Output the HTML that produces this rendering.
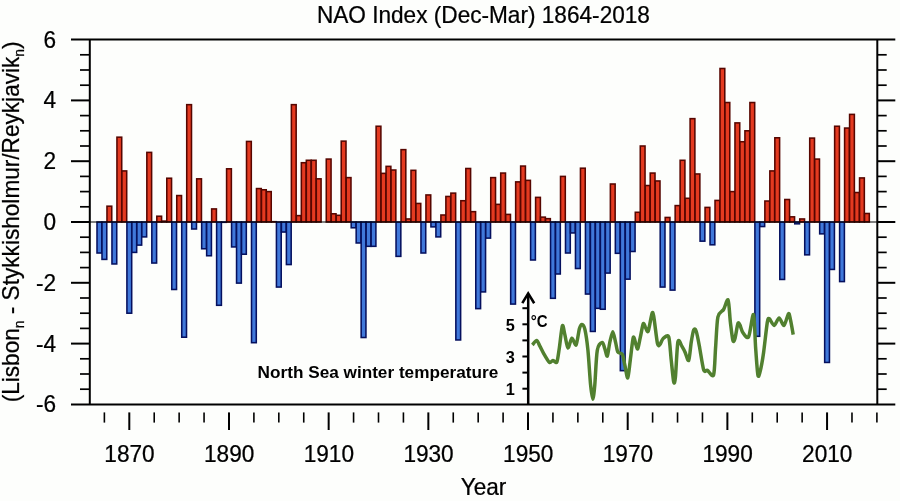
<!DOCTYPE html>
<html><head><meta charset="utf-8"><title>NAO Index</title>
<style>html,body{margin:0;padding:0;background:#fdfefc;}body{width:900px;height:501px;overflow:hidden;font-family:"Liberation Sans",sans-serif;}svg{display:block;filter:blur(0.35px);}</style>
</head><body>
<svg width="900" height="501" viewBox="0 0 900 501">
<rect x="0" y="0" width="900" height="501" fill="#fdfefc"/>
<g stroke-width="1.55">
<rect x="97.00" y="222.00" width="4.78" height="31.01" fill="#4078da" stroke="#05105e"/>
<rect x="101.99" y="222.00" width="4.78" height="37.40" fill="#4078da" stroke="#05105e"/>
<rect x="106.97" y="206.19" width="4.78" height="15.81" fill="#e43a20" stroke="#560600"/>
<rect x="111.96" y="222.00" width="4.78" height="41.96" fill="#4078da" stroke="#05105e"/>
<rect x="116.94" y="137.18" width="4.78" height="84.82" fill="#e43a20" stroke="#560600"/>
<rect x="121.92" y="170.92" width="4.78" height="51.08" fill="#e43a20" stroke="#560600"/>
<rect x="126.91" y="222.00" width="4.78" height="91.20" fill="#4078da" stroke="#05105e"/>
<rect x="131.89" y="222.00" width="4.78" height="30.40" fill="#4078da" stroke="#05105e"/>
<rect x="136.88" y="222.00" width="4.78" height="23.11" fill="#4078da" stroke="#05105e"/>
<rect x="141.86" y="222.00" width="4.78" height="14.90" fill="#4078da" stroke="#05105e"/>
<rect x="146.84" y="152.38" width="4.78" height="69.62" fill="#e43a20" stroke="#560600"/>
<rect x="151.83" y="222.00" width="4.78" height="41.04" fill="#4078da" stroke="#05105e"/>
<rect x="156.81" y="216.22" width="4.78" height="5.78" fill="#e43a20" stroke="#560600"/>
<rect x="161.80" y="221.08" width="4.78" height="0.92" fill="#e43a20" stroke="#560600"/>
<rect x="166.78" y="178.22" width="4.78" height="43.78" fill="#e43a20" stroke="#560600"/>
<rect x="171.76" y="222.00" width="4.78" height="67.49" fill="#4078da" stroke="#05105e"/>
<rect x="176.75" y="195.55" width="4.78" height="26.45" fill="#e43a20" stroke="#560600"/>
<rect x="181.73" y="222.00" width="4.78" height="115.22" fill="#4078da" stroke="#05105e"/>
<rect x="186.72" y="104.65" width="4.78" height="117.35" fill="#e43a20" stroke="#560600"/>
<rect x="191.70" y="222.00" width="4.78" height="7.00" fill="#4078da" stroke="#05105e"/>
<rect x="196.68" y="178.83" width="4.78" height="43.17" fill="#e43a20" stroke="#560600"/>
<rect x="201.67" y="222.00" width="4.78" height="26.76" fill="#4078da" stroke="#05105e"/>
<rect x="206.65" y="222.00" width="4.78" height="33.75" fill="#4078da" stroke="#05105e"/>
<rect x="211.64" y="208.92" width="4.78" height="13.08" fill="#e43a20" stroke="#560600"/>
<rect x="216.62" y="222.00" width="4.78" height="83.30" fill="#4078da" stroke="#05105e"/>
<rect x="221.60" y="222.00" width="4.78" height="0.31" fill="#4078da" stroke="#05105e"/>
<rect x="226.59" y="168.80" width="4.78" height="53.20" fill="#e43a20" stroke="#560600"/>
<rect x="231.57" y="222.00" width="4.78" height="24.93" fill="#4078da" stroke="#05105e"/>
<rect x="236.56" y="222.00" width="4.78" height="61.11" fill="#4078da" stroke="#05105e"/>
<rect x="241.54" y="222.00" width="4.78" height="32.23" fill="#4078da" stroke="#05105e"/>
<rect x="246.52" y="141.44" width="4.78" height="80.56" fill="#e43a20" stroke="#560600"/>
<rect x="251.51" y="222.00" width="4.78" height="120.69" fill="#4078da" stroke="#05105e"/>
<rect x="256.49" y="188.56" width="4.78" height="33.44" fill="#e43a20" stroke="#560600"/>
<rect x="261.48" y="189.77" width="4.78" height="32.23" fill="#e43a20" stroke="#560600"/>
<rect x="266.46" y="191.60" width="4.78" height="30.40" fill="#e43a20" stroke="#560600"/>
<rect x="271.44" y="221.69" width="4.78" height="0.31" fill="#e43a20" stroke="#560600"/>
<rect x="276.43" y="222.00" width="4.78" height="65.06" fill="#4078da" stroke="#05105e"/>
<rect x="281.41" y="222.00" width="4.78" height="10.04" fill="#4078da" stroke="#05105e"/>
<rect x="286.40" y="222.00" width="4.78" height="42.56" fill="#4078da" stroke="#05105e"/>
<rect x="291.38" y="104.65" width="4.78" height="117.35" fill="#e43a20" stroke="#560600"/>
<rect x="296.36" y="215.61" width="4.78" height="6.39" fill="#e43a20" stroke="#560600"/>
<rect x="301.35" y="162.72" width="4.78" height="59.28" fill="#e43a20" stroke="#560600"/>
<rect x="306.33" y="160.28" width="4.78" height="61.72" fill="#e43a20" stroke="#560600"/>
<rect x="311.32" y="160.28" width="4.78" height="61.72" fill="#e43a20" stroke="#560600"/>
<rect x="316.30" y="178.83" width="4.78" height="43.17" fill="#e43a20" stroke="#560600"/>
<rect x="326.27" y="159.07" width="4.78" height="62.93" fill="#e43a20" stroke="#560600"/>
<rect x="331.25" y="213.79" width="4.78" height="8.21" fill="#e43a20" stroke="#560600"/>
<rect x="336.24" y="215.31" width="4.78" height="6.69" fill="#e43a20" stroke="#560600"/>
<rect x="341.22" y="141.13" width="4.78" height="80.87" fill="#e43a20" stroke="#560600"/>
<rect x="346.20" y="177.61" width="4.78" height="44.39" fill="#e43a20" stroke="#560600"/>
<rect x="351.19" y="222.00" width="4.78" height="5.78" fill="#4078da" stroke="#05105e"/>
<rect x="356.17" y="222.00" width="4.78" height="20.98" fill="#4078da" stroke="#05105e"/>
<rect x="361.16" y="222.00" width="4.78" height="115.52" fill="#4078da" stroke="#05105e"/>
<rect x="366.14" y="222.00" width="4.78" height="24.32" fill="#4078da" stroke="#05105e"/>
<rect x="371.12" y="222.00" width="4.78" height="24.32" fill="#4078da" stroke="#05105e"/>
<rect x="376.11" y="126.24" width="4.78" height="95.76" fill="#e43a20" stroke="#560600"/>
<rect x="381.09" y="173.36" width="4.78" height="48.64" fill="#e43a20" stroke="#560600"/>
<rect x="386.08" y="166.36" width="4.78" height="55.64" fill="#e43a20" stroke="#560600"/>
<rect x="391.06" y="170.01" width="4.78" height="51.99" fill="#e43a20" stroke="#560600"/>
<rect x="396.04" y="222.00" width="4.78" height="34.36" fill="#4078da" stroke="#05105e"/>
<rect x="401.03" y="149.64" width="4.78" height="72.36" fill="#e43a20" stroke="#560600"/>
<rect x="406.01" y="218.96" width="4.78" height="3.04" fill="#e43a20" stroke="#560600"/>
<rect x="411.00" y="170.32" width="4.78" height="51.68" fill="#e43a20" stroke="#560600"/>
<rect x="415.98" y="203.45" width="4.78" height="18.55" fill="#e43a20" stroke="#560600"/>
<rect x="420.96" y="222.00" width="4.78" height="31.01" fill="#4078da" stroke="#05105e"/>
<rect x="425.95" y="194.94" width="4.78" height="27.06" fill="#e43a20" stroke="#560600"/>
<rect x="430.93" y="222.00" width="4.78" height="4.87" fill="#4078da" stroke="#05105e"/>
<rect x="435.92" y="222.00" width="4.78" height="14.90" fill="#4078da" stroke="#05105e"/>
<rect x="440.90" y="215.00" width="4.78" height="7.00" fill="#e43a20" stroke="#560600"/>
<rect x="445.88" y="196.46" width="4.78" height="25.54" fill="#e43a20" stroke="#560600"/>
<rect x="450.87" y="193.12" width="4.78" height="28.88" fill="#e43a20" stroke="#560600"/>
<rect x="455.85" y="222.00" width="4.78" height="117.96" fill="#4078da" stroke="#05105e"/>
<rect x="460.84" y="200.72" width="4.78" height="21.28" fill="#e43a20" stroke="#560600"/>
<rect x="465.82" y="168.49" width="4.78" height="53.51" fill="#e43a20" stroke="#560600"/>
<rect x="470.80" y="211.66" width="4.78" height="10.34" fill="#e43a20" stroke="#560600"/>
<rect x="475.79" y="222.00" width="4.78" height="86.64" fill="#4078da" stroke="#05105e"/>
<rect x="480.77" y="222.00" width="4.78" height="69.92" fill="#4078da" stroke="#05105e"/>
<rect x="485.76" y="222.00" width="4.78" height="16.12" fill="#4078da" stroke="#05105e"/>
<rect x="490.74" y="177.61" width="4.78" height="44.39" fill="#e43a20" stroke="#560600"/>
<rect x="495.72" y="204.36" width="4.78" height="17.64" fill="#e43a20" stroke="#560600"/>
<rect x="500.71" y="173.05" width="4.78" height="48.95" fill="#e43a20" stroke="#560600"/>
<rect x="505.69" y="214.40" width="4.78" height="7.60" fill="#e43a20" stroke="#560600"/>
<rect x="510.68" y="222.00" width="4.78" height="82.08" fill="#4078da" stroke="#05105e"/>
<rect x="515.66" y="181.87" width="4.78" height="40.13" fill="#e43a20" stroke="#560600"/>
<rect x="520.64" y="166.06" width="4.78" height="55.94" fill="#e43a20" stroke="#560600"/>
<rect x="525.63" y="180.35" width="4.78" height="41.65" fill="#e43a20" stroke="#560600"/>
<rect x="530.61" y="222.00" width="4.78" height="38.00" fill="#4078da" stroke="#05105e"/>
<rect x="535.60" y="197.37" width="4.78" height="24.63" fill="#e43a20" stroke="#560600"/>
<rect x="540.58" y="217.13" width="4.78" height="4.87" fill="#e43a20" stroke="#560600"/>
<rect x="545.56" y="218.65" width="4.78" height="3.35" fill="#e43a20" stroke="#560600"/>
<rect x="550.55" y="222.00" width="4.78" height="76.31" fill="#4078da" stroke="#05105e"/>
<rect x="555.53" y="222.00" width="4.78" height="51.99" fill="#4078da" stroke="#05105e"/>
<rect x="560.52" y="176.40" width="4.78" height="45.60" fill="#e43a20" stroke="#560600"/>
<rect x="565.50" y="222.00" width="4.78" height="31.01" fill="#4078da" stroke="#05105e"/>
<rect x="570.48" y="222.00" width="4.78" height="10.95" fill="#4078da" stroke="#05105e"/>
<rect x="575.47" y="222.00" width="4.78" height="46.52" fill="#4078da" stroke="#05105e"/>
<rect x="580.45" y="168.19" width="4.78" height="53.81" fill="#e43a20" stroke="#560600"/>
<rect x="585.44" y="222.00" width="4.78" height="72.05" fill="#4078da" stroke="#05105e"/>
<rect x="590.42" y="222.00" width="4.78" height="109.44" fill="#4078da" stroke="#05105e"/>
<rect x="595.40" y="222.00" width="4.78" height="86.34" fill="#4078da" stroke="#05105e"/>
<rect x="600.39" y="222.00" width="4.78" height="87.25" fill="#4078da" stroke="#05105e"/>
<rect x="605.37" y="222.00" width="4.78" height="51.08" fill="#4078da" stroke="#05105e"/>
<rect x="610.36" y="184.00" width="4.78" height="38.00" fill="#e43a20" stroke="#560600"/>
<rect x="615.34" y="222.00" width="4.78" height="31.32" fill="#4078da" stroke="#05105e"/>
<rect x="620.32" y="222.00" width="4.78" height="148.66" fill="#4078da" stroke="#05105e"/>
<rect x="625.31" y="222.00" width="4.78" height="57.16" fill="#4078da" stroke="#05105e"/>
<rect x="630.29" y="222.00" width="4.78" height="29.49" fill="#4078da" stroke="#05105e"/>
<rect x="635.28" y="212.27" width="4.78" height="9.73" fill="#e43a20" stroke="#560600"/>
<rect x="640.26" y="146.00" width="4.78" height="76.00" fill="#e43a20" stroke="#560600"/>
<rect x="645.24" y="185.52" width="4.78" height="36.48" fill="#e43a20" stroke="#560600"/>
<rect x="650.23" y="173.05" width="4.78" height="48.95" fill="#e43a20" stroke="#560600"/>
<rect x="655.21" y="180.96" width="4.78" height="41.04" fill="#e43a20" stroke="#560600"/>
<rect x="660.20" y="222.00" width="4.78" height="65.06" fill="#4078da" stroke="#05105e"/>
<rect x="665.18" y="217.44" width="4.78" height="4.56" fill="#e43a20" stroke="#560600"/>
<rect x="670.16" y="222.00" width="4.78" height="68.10" fill="#4078da" stroke="#05105e"/>
<rect x="675.15" y="205.58" width="4.78" height="16.42" fill="#e43a20" stroke="#560600"/>
<rect x="680.13" y="160.28" width="4.78" height="61.72" fill="#e43a20" stroke="#560600"/>
<rect x="685.12" y="198.28" width="4.78" height="23.72" fill="#e43a20" stroke="#560600"/>
<rect x="690.10" y="118.64" width="4.78" height="103.36" fill="#e43a20" stroke="#560600"/>
<rect x="695.08" y="173.96" width="4.78" height="48.04" fill="#e43a20" stroke="#560600"/>
<rect x="700.07" y="222.00" width="4.78" height="19.16" fill="#4078da" stroke="#05105e"/>
<rect x="705.05" y="207.40" width="4.78" height="14.60" fill="#e43a20" stroke="#560600"/>
<rect x="710.04" y="222.00" width="4.78" height="22.80" fill="#4078da" stroke="#05105e"/>
<rect x="715.02" y="200.41" width="4.78" height="21.59" fill="#e43a20" stroke="#560600"/>
<rect x="720.00" y="68.48" width="4.78" height="153.52" fill="#e43a20" stroke="#560600"/>
<rect x="724.99" y="102.52" width="4.78" height="119.48" fill="#e43a20" stroke="#560600"/>
<rect x="729.97" y="191.60" width="4.78" height="30.40" fill="#e43a20" stroke="#560600"/>
<rect x="734.96" y="122.89" width="4.78" height="99.11" fill="#e43a20" stroke="#560600"/>
<rect x="739.94" y="141.74" width="4.78" height="80.26" fill="#e43a20" stroke="#560600"/>
<rect x="744.92" y="130.80" width="4.78" height="91.20" fill="#e43a20" stroke="#560600"/>
<rect x="749.91" y="102.52" width="4.78" height="119.48" fill="#e43a20" stroke="#560600"/>
<rect x="754.89" y="222.00" width="4.78" height="114.31" fill="#4078da" stroke="#05105e"/>
<rect x="759.88" y="222.00" width="4.78" height="4.56" fill="#4078da" stroke="#05105e"/>
<rect x="764.86" y="201.02" width="4.78" height="20.98" fill="#e43a20" stroke="#560600"/>
<rect x="769.84" y="170.92" width="4.78" height="51.08" fill="#e43a20" stroke="#560600"/>
<rect x="774.83" y="137.79" width="4.78" height="84.21" fill="#e43a20" stroke="#560600"/>
<rect x="779.81" y="222.00" width="4.78" height="57.46" fill="#4078da" stroke="#05105e"/>
<rect x="784.80" y="199.50" width="4.78" height="22.50" fill="#e43a20" stroke="#560600"/>
<rect x="789.78" y="216.83" width="4.78" height="5.17" fill="#e43a20" stroke="#560600"/>
<rect x="794.76" y="222.00" width="4.78" height="1.83" fill="#4078da" stroke="#05105e"/>
<rect x="799.75" y="218.96" width="4.78" height="3.04" fill="#e43a20" stroke="#560600"/>
<rect x="804.73" y="222.00" width="4.78" height="32.84" fill="#4078da" stroke="#05105e"/>
<rect x="809.72" y="138.09" width="4.78" height="83.91" fill="#e43a20" stroke="#560600"/>
<rect x="814.70" y="159.07" width="4.78" height="62.93" fill="#e43a20" stroke="#560600"/>
<rect x="819.68" y="222.00" width="4.78" height="11.86" fill="#4078da" stroke="#05105e"/>
<rect x="824.67" y="222.00" width="4.78" height="140.45" fill="#4078da" stroke="#05105e"/>
<rect x="829.65" y="222.00" width="4.78" height="47.43" fill="#4078da" stroke="#05105e"/>
<rect x="834.64" y="126.24" width="4.78" height="95.76" fill="#e43a20" stroke="#560600"/>
<rect x="839.62" y="222.00" width="4.78" height="59.59" fill="#4078da" stroke="#05105e"/>
<rect x="844.60" y="128.06" width="4.78" height="93.94" fill="#e43a20" stroke="#560600"/>
<rect x="849.59" y="114.38" width="4.78" height="107.62" fill="#e43a20" stroke="#560600"/>
<rect x="854.57" y="192.51" width="4.78" height="29.49" fill="#e43a20" stroke="#560600"/>
<rect x="859.56" y="177.92" width="4.78" height="44.08" fill="#e43a20" stroke="#560600"/>
<rect x="864.54" y="213.48" width="4.78" height="8.52" fill="#e43a20" stroke="#560600"/>
</g>
<g stroke="#000" stroke-width="2" fill="none" stroke-linecap="butt">
<line x1="71" y1="39.6" x2="895.3" y2="39.6"/>
<line x1="71" y1="404.4" x2="895.3" y2="404.4"/>
<line x1="89.8" y1="39.6" x2="89.8" y2="404.4"/>
<line x1="877.3" y1="39.6" x2="877.3" y2="404.4"/>
<line x1="89.8" y1="222.0" x2="877.3" y2="222.0" stroke-width="1.1"/>
<line x1="71" y1="222.0" x2="89.8" y2="222.0"/>
<line x1="877.3" y1="222.0" x2="895.3" y2="222.0"/>
<line x1="80" y1="389.20" x2="89.8" y2="389.20" stroke-width="1.7"/>
<line x1="877.3" y1="389.20" x2="886.7" y2="389.20" stroke-width="1.7"/>
<line x1="80" y1="374.00" x2="89.8" y2="374.00" stroke-width="1.7"/>
<line x1="877.3" y1="374.00" x2="886.7" y2="374.00" stroke-width="1.7"/>
<line x1="80" y1="358.80" x2="89.8" y2="358.80" stroke-width="1.7"/>
<line x1="877.3" y1="358.80" x2="886.7" y2="358.80" stroke-width="1.7"/>
<line x1="71" y1="343.60" x2="89.8" y2="343.60"/>
<line x1="877.3" y1="343.60" x2="895.3" y2="343.60"/>
<line x1="80" y1="328.40" x2="89.8" y2="328.40" stroke-width="1.7"/>
<line x1="877.3" y1="328.40" x2="886.7" y2="328.40" stroke-width="1.7"/>
<line x1="80" y1="313.20" x2="89.8" y2="313.20" stroke-width="1.7"/>
<line x1="877.3" y1="313.20" x2="886.7" y2="313.20" stroke-width="1.7"/>
<line x1="80" y1="298.00" x2="89.8" y2="298.00" stroke-width="1.7"/>
<line x1="877.3" y1="298.00" x2="886.7" y2="298.00" stroke-width="1.7"/>
<line x1="71" y1="282.80" x2="89.8" y2="282.80"/>
<line x1="877.3" y1="282.80" x2="895.3" y2="282.80"/>
<line x1="80" y1="267.60" x2="89.8" y2="267.60" stroke-width="1.7"/>
<line x1="877.3" y1="267.60" x2="886.7" y2="267.60" stroke-width="1.7"/>
<line x1="80" y1="252.40" x2="89.8" y2="252.40" stroke-width="1.7"/>
<line x1="877.3" y1="252.40" x2="886.7" y2="252.40" stroke-width="1.7"/>
<line x1="80" y1="237.20" x2="89.8" y2="237.20" stroke-width="1.7"/>
<line x1="877.3" y1="237.20" x2="886.7" y2="237.20" stroke-width="1.7"/>
<line x1="80" y1="206.80" x2="89.8" y2="206.80" stroke-width="1.7"/>
<line x1="877.3" y1="206.80" x2="886.7" y2="206.80" stroke-width="1.7"/>
<line x1="80" y1="191.60" x2="89.8" y2="191.60" stroke-width="1.7"/>
<line x1="877.3" y1="191.60" x2="886.7" y2="191.60" stroke-width="1.7"/>
<line x1="80" y1="176.40" x2="89.8" y2="176.40" stroke-width="1.7"/>
<line x1="877.3" y1="176.40" x2="886.7" y2="176.40" stroke-width="1.7"/>
<line x1="71" y1="161.20" x2="89.8" y2="161.20"/>
<line x1="877.3" y1="161.20" x2="895.3" y2="161.20"/>
<line x1="80" y1="146.00" x2="89.8" y2="146.00" stroke-width="1.7"/>
<line x1="877.3" y1="146.00" x2="886.7" y2="146.00" stroke-width="1.7"/>
<line x1="80" y1="130.80" x2="89.8" y2="130.80" stroke-width="1.7"/>
<line x1="877.3" y1="130.80" x2="886.7" y2="130.80" stroke-width="1.7"/>
<line x1="80" y1="115.60" x2="89.8" y2="115.60" stroke-width="1.7"/>
<line x1="877.3" y1="115.60" x2="886.7" y2="115.60" stroke-width="1.7"/>
<line x1="71" y1="100.40" x2="89.8" y2="100.40"/>
<line x1="877.3" y1="100.40" x2="895.3" y2="100.40"/>
<line x1="80" y1="85.20" x2="89.8" y2="85.20" stroke-width="1.7"/>
<line x1="877.3" y1="85.20" x2="886.7" y2="85.20" stroke-width="1.7"/>
<line x1="80" y1="70.00" x2="89.8" y2="70.00" stroke-width="1.7"/>
<line x1="877.3" y1="70.00" x2="886.7" y2="70.00" stroke-width="1.7"/>
<line x1="80" y1="54.80" x2="89.8" y2="54.80" stroke-width="1.7"/>
<line x1="877.3" y1="54.80" x2="886.7" y2="54.80" stroke-width="1.7"/>
<line x1="104.38" y1="412.4" x2="104.38" y2="422.6" stroke-width="1.6"/>
<line x1="129.30" y1="412.4" x2="129.30" y2="430"/>
<line x1="154.22" y1="412.4" x2="154.22" y2="422.6" stroke-width="1.6"/>
<line x1="179.14" y1="412.4" x2="179.14" y2="422.6" stroke-width="1.6"/>
<line x1="204.06" y1="412.4" x2="204.06" y2="422.6" stroke-width="1.6"/>
<line x1="228.98" y1="412.4" x2="228.98" y2="430"/>
<line x1="253.90" y1="412.4" x2="253.90" y2="422.6" stroke-width="1.6"/>
<line x1="278.82" y1="412.4" x2="278.82" y2="422.6" stroke-width="1.6"/>
<line x1="303.74" y1="412.4" x2="303.74" y2="422.6" stroke-width="1.6"/>
<line x1="328.66" y1="412.4" x2="328.66" y2="430"/>
<line x1="353.58" y1="412.4" x2="353.58" y2="422.6" stroke-width="1.6"/>
<line x1="378.50" y1="412.4" x2="378.50" y2="422.6" stroke-width="1.6"/>
<line x1="403.42" y1="412.4" x2="403.42" y2="422.6" stroke-width="1.6"/>
<line x1="428.34" y1="412.4" x2="428.34" y2="430"/>
<line x1="453.26" y1="412.4" x2="453.26" y2="422.6" stroke-width="1.6"/>
<line x1="478.18" y1="412.4" x2="478.18" y2="422.6" stroke-width="1.6"/>
<line x1="503.10" y1="412.4" x2="503.10" y2="422.6" stroke-width="1.6"/>
<line x1="528.02" y1="412.4" x2="528.02" y2="430"/>
<line x1="552.94" y1="412.4" x2="552.94" y2="422.6" stroke-width="1.6"/>
<line x1="577.86" y1="412.4" x2="577.86" y2="422.6" stroke-width="1.6"/>
<line x1="602.78" y1="412.4" x2="602.78" y2="422.6" stroke-width="1.6"/>
<line x1="627.70" y1="412.4" x2="627.70" y2="430"/>
<line x1="652.62" y1="412.4" x2="652.62" y2="422.6" stroke-width="1.6"/>
<line x1="677.54" y1="412.4" x2="677.54" y2="422.6" stroke-width="1.6"/>
<line x1="702.46" y1="412.4" x2="702.46" y2="422.6" stroke-width="1.6"/>
<line x1="727.38" y1="412.4" x2="727.38" y2="430"/>
<line x1="752.30" y1="412.4" x2="752.30" y2="422.6" stroke-width="1.6"/>
<line x1="777.22" y1="412.4" x2="777.22" y2="422.6" stroke-width="1.6"/>
<line x1="802.14" y1="412.4" x2="802.14" y2="422.6" stroke-width="1.6"/>
<line x1="827.06" y1="412.4" x2="827.06" y2="430"/>
<line x1="851.98" y1="412.4" x2="851.98" y2="422.6" stroke-width="1.6"/>
<line x1="876.90" y1="412.4" x2="876.90" y2="422.6" stroke-width="1.6"/>
</g>
<text transform="translate(129.50,462.40) scale(0.984,1)" text-anchor="middle" font-family="'Liberation Sans', sans-serif" font-size="23.0" fill="#000" stroke="#000" stroke-width="0.25" >1870</text>
<text transform="translate(229.18,462.40) scale(0.984,1)" text-anchor="middle" font-family="'Liberation Sans', sans-serif" font-size="23.0" fill="#000" stroke="#000" stroke-width="0.25" >1890</text>
<text transform="translate(328.86,462.40) scale(0.984,1)" text-anchor="middle" font-family="'Liberation Sans', sans-serif" font-size="23.0" fill="#000" stroke="#000" stroke-width="0.25" >1910</text>
<text transform="translate(428.54,462.40) scale(0.984,1)" text-anchor="middle" font-family="'Liberation Sans', sans-serif" font-size="23.0" fill="#000" stroke="#000" stroke-width="0.25" >1930</text>
<text transform="translate(528.22,462.40) scale(0.984,1)" text-anchor="middle" font-family="'Liberation Sans', sans-serif" font-size="23.0" fill="#000" stroke="#000" stroke-width="0.25" >1950</text>
<text transform="translate(627.90,462.40) scale(0.984,1)" text-anchor="middle" font-family="'Liberation Sans', sans-serif" font-size="23.0" fill="#000" stroke="#000" stroke-width="0.25" >1970</text>
<text transform="translate(727.58,462.40) scale(0.984,1)" text-anchor="middle" font-family="'Liberation Sans', sans-serif" font-size="23.0" fill="#000" stroke="#000" stroke-width="0.25" >1990</text>
<text transform="translate(827.26,462.40) scale(0.984,1)" text-anchor="middle" font-family="'Liberation Sans', sans-serif" font-size="23.0" fill="#000" stroke="#000" stroke-width="0.25" >2010</text>
<text transform="translate(56.10,47.60) scale(0.984,1)" text-anchor="end" font-family="'Liberation Sans', sans-serif" font-size="23.0" fill="#000" stroke="#000" stroke-width="0.25" >6</text>
<text transform="translate(56.10,108.40) scale(0.984,1)" text-anchor="end" font-family="'Liberation Sans', sans-serif" font-size="23.0" fill="#000" stroke="#000" stroke-width="0.25" >4</text>
<text transform="translate(56.10,169.20) scale(0.984,1)" text-anchor="end" font-family="'Liberation Sans', sans-serif" font-size="23.0" fill="#000" stroke="#000" stroke-width="0.25" >2</text>
<text transform="translate(56.10,230.00) scale(0.984,1)" text-anchor="end" font-family="'Liberation Sans', sans-serif" font-size="23.0" fill="#000" stroke="#000" stroke-width="0.25" >0</text>
<text transform="translate(56.10,290.80) scale(0.984,1)" text-anchor="end" font-family="'Liberation Sans', sans-serif" font-size="23.0" fill="#000" stroke="#000" stroke-width="0.25" >-2</text>
<text transform="translate(56.10,351.60) scale(0.984,1)" text-anchor="end" font-family="'Liberation Sans', sans-serif" font-size="23.0" fill="#000" stroke="#000" stroke-width="0.25" >-4</text>
<text transform="translate(56.10,412.40) scale(0.984,1)" text-anchor="end" font-family="'Liberation Sans', sans-serif" font-size="23.0" fill="#000" stroke="#000" stroke-width="0.25" >-6</text>
<text transform="translate(483.50,495.30) scale(0.984,1)" text-anchor="middle" font-family="'Liberation Sans', sans-serif" font-size="23.0" fill="#000" stroke="#000" stroke-width="0.25" >Year</text>
<text transform="translate(483.40,22.60) scale(0.984,1)" text-anchor="middle" font-family="'Liberation Sans', sans-serif" font-size="23.0" fill="#000" stroke="#000" stroke-width="0.25" >NAO Index (Dec-Mar) 1864-2018</text>
<text transform="translate(19.4,221.9) rotate(-90) scale(0.984,1)" text-anchor="middle" font-family="'Liberation Sans', sans-serif" font-size="23.0" fill="#000" stroke="#000" stroke-width="0.25">(Lisbon<tspan font-size="14" dy="4.2">n</tspan><tspan dy="-4.2"> - Stykkisholmur/Reykjavik</tspan><tspan font-size="14" dy="4.2">n</tspan><tspan dy="-4.2">)</tspan></text>
<g stroke="#000" stroke-width="2.5" fill="none">
<line x1="528.2" y1="294.5" x2="528.2" y2="404.4"/>
<polyline points="522.3,303.2 528.2,293.4 534.2,303.2" stroke-width="2.6" stroke-linejoin="miter"/>
<line x1="522.4" y1="388.70" x2="528.2" y2="388.70" stroke-width="2"/>
<line x1="522.4" y1="372.60" x2="528.2" y2="372.60" stroke-width="2"/>
<line x1="522.4" y1="356.50" x2="528.2" y2="356.50" stroke-width="2"/>
<line x1="522.4" y1="340.40" x2="528.2" y2="340.40" stroke-width="2"/>
<line x1="522.4" y1="324.30" x2="528.2" y2="324.30" stroke-width="2"/>
<line x1="522.4" y1="308.20" x2="528.2" y2="308.20" stroke-width="2"/>
</g>
<text x="514.9" y="330.7" text-anchor="end" font-family="'Liberation Sans', sans-serif" font-weight="bold" font-size="16.3" fill="#000">5</text>
<text x="514.9" y="363.0" text-anchor="end" font-family="'Liberation Sans', sans-serif" font-weight="bold" font-size="16.3" fill="#000">3</text>
<text x="514.9" y="394.8" text-anchor="end" font-family="'Liberation Sans', sans-serif" font-weight="bold" font-size="16.3" fill="#000">1</text>
<text transform="translate(530.8,327.3) scale(0.95,1)" font-family="'Liberation Sans', sans-serif" font-weight="bold" font-size="15.8" fill="#000">°C</text>
<text x="257.6" y="377.7" font-family="'Liberation Sans', sans-serif" font-weight="bold" font-size="17.3" fill="#000" textLength="240.6" lengthAdjust="spacingAndGlyphs">North Sea winter temperature</text>
<path d="M532.4,344.9 C533.0,344.3 535.7,340.2 536.7,340.4 C537.8,340.6 538.9,344.4 539.9,346.2 C540.9,348.0 542.4,351.3 543.7,353.6 C545.0,355.9 548.1,361.4 549.4,362.4 C550.7,363.4 551.9,360.5 552.9,360.4 C553.9,360.3 556.0,363.7 556.9,361.9 C557.8,360.1 558.6,352.5 559.4,347.4 C560.2,342.3 561.6,327.4 562.4,325.7 C563.2,323.9 564.1,331.8 564.9,334.9 C565.7,338.0 566.9,347.4 567.9,347.9 C568.9,348.4 570.8,338.6 571.9,338.2 C573.0,337.8 575.1,346.2 576.1,344.9 C577.1,343.6 578.6,331.6 579.4,328.7 C580.2,325.8 581.1,324.3 581.9,324.4 C582.7,324.5 584.1,325.8 584.9,329.4 C585.7,333.0 587.1,342.1 587.9,349.9 C588.7,357.7 589.9,378.0 590.6,384.9 C591.3,391.8 592.2,399.3 592.8,399.3 C593.4,399.3 594.2,391.7 594.8,384.9 C595.4,378.1 596.2,356.3 597.3,350.4 C598.3,344.4 601.2,342.6 602.3,342.4 C603.3,342.2 604.1,346.8 604.8,348.7 C605.5,350.6 606.6,357.0 607.3,356.1 C608.0,355.2 609.0,345.8 609.8,342.4 C610.6,339.0 612.0,331.7 612.8,331.7 C613.6,331.7 614.9,339.6 615.6,342.4 C616.3,345.2 616.9,350.2 617.8,351.9 C618.7,353.6 621.3,352.6 622.3,354.4 C623.3,356.2 624.0,361.6 624.8,364.9 C625.6,368.2 627.0,378.6 627.8,377.9 C628.6,377.2 629.5,365.6 630.3,359.9 C631.1,354.2 632.5,339.5 633.3,337.4 C634.1,335.3 635.4,343.3 636.0,344.9 C636.6,346.5 637.2,349.8 637.8,348.7 C638.4,347.6 639.5,340.9 640.3,337.4 C641.1,333.9 642.5,325.1 643.2,323.7 C643.9,322.3 644.8,326.3 645.5,327.4 C646.2,328.4 647.3,333.1 648.2,331.2 C649.1,329.3 651.2,315.8 652.0,313.7 C652.8,311.6 652.9,312.0 653.7,316.2 C654.5,320.4 656.6,339.8 657.5,343.7 C658.4,347.6 659.2,345.1 660.0,344.4 C660.8,343.7 661.8,339.8 663.0,338.7 C664.2,337.6 667.6,333.9 668.7,336.9 C669.8,339.9 670.5,353.6 671.2,359.9 C671.9,366.2 673.1,379.4 673.7,381.9 C674.3,384.3 674.8,383.0 675.4,377.4 C676.0,371.8 677.0,346.3 677.9,341.9 C678.8,337.5 680.9,344.8 681.9,346.2 C682.9,347.6 683.9,349.9 684.9,351.9 C685.9,353.9 687.8,361.7 688.7,360.4 C689.6,359.1 690.5,346.7 691.2,342.4 C691.9,338.1 693.0,331.5 693.7,329.9 C694.4,328.3 695.4,328.9 696.2,331.2 C697.0,333.5 698.4,340.8 699.4,346.2 C700.4,351.6 702.6,366.5 703.7,369.9 C704.8,373.3 706.0,369.7 707.4,370.4 C708.8,371.1 712.5,378.1 713.6,374.9 C714.7,371.7 715.0,355.5 715.6,347.4 C716.2,339.3 716.8,322.3 717.9,317.0 C719.0,311.7 722.2,311.9 723.6,309.5 C725.0,307.1 727.1,298.2 728.1,300.0 C729.1,301.8 729.7,316.7 730.4,322.4 C731.1,328.1 732.3,338.1 732.9,340.4 C733.5,342.7 734.2,341.0 734.9,338.7 C735.6,336.4 737.2,325.6 737.9,323.7 C738.6,321.8 739.2,323.7 739.9,324.9 C740.6,326.1 741.6,330.7 742.8,332.4 C744.0,334.1 747.1,339.4 748.6,336.9 C750.1,334.4 752.5,313.0 753.5,314.5 C754.5,316.0 755.0,339.0 755.6,347.4 C756.2,355.8 757.2,370.8 757.8,374.4 C758.4,378.0 759.0,376.0 759.8,372.9 C760.6,369.8 762.6,359.5 763.6,352.4 C764.6,345.3 766.5,327.1 767.3,322.4 C768.1,317.7 768.3,318.3 769.3,318.7 C770.3,319.1 772.7,325.5 774.1,325.4 C775.5,325.3 777.7,318.0 779.1,318.0 C780.5,318.0 782.7,326.0 784.0,325.4 C785.3,324.8 787.6,314.5 788.5,313.7 C789.4,312.9 789.8,317.0 790.5,319.9 C791.2,322.8 792.8,332.5 793.2,334.6" fill="none" stroke="#51802f" stroke-width="3.5" stroke-linejoin="round" stroke-linecap="butt"/>
</svg>
</body></html>
